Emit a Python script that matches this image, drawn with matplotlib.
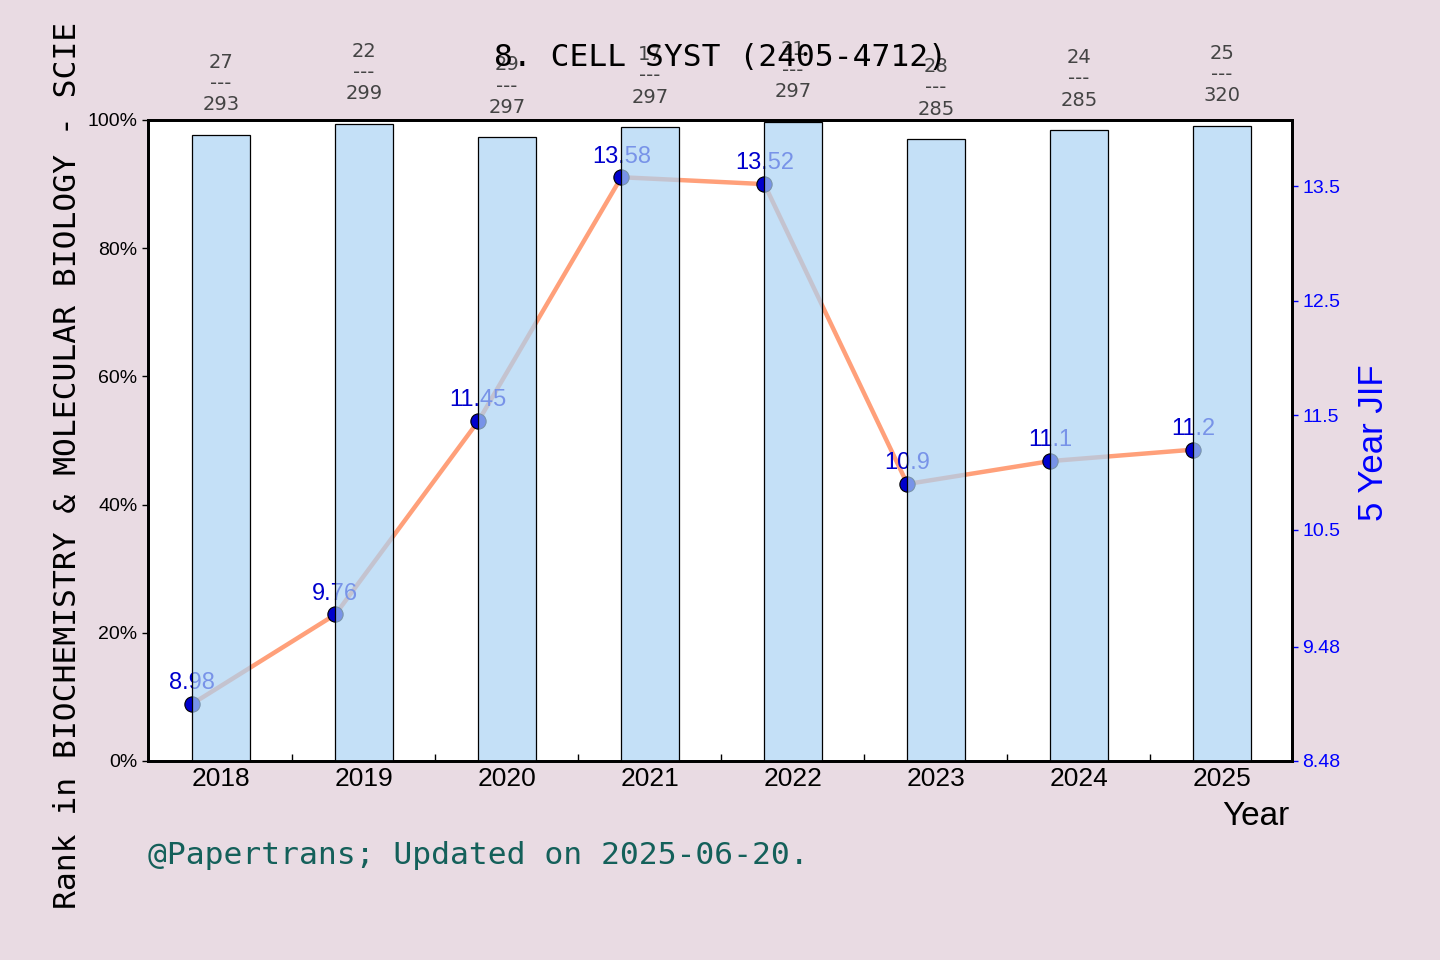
import matplotlib
matplotlib.use('Agg')
import matplotlib.pyplot as plt
import numpy as np

# data
years = ['2018', '2019', '2020', '2021', '2022', '2023', '2024', '2025']
jif = [8.98, 9.76, 11.45, 13.58, 13.52, 10.9, 11.1, 11.2]
rank = [27, 22, 29, 17, 21, 28, 24, 25]
total = [293, 299, 297, 297, 297, 285, 285, 320]
bar_pct = [97.7, 99.4, 97.3, 98.9, 99.7, 97.0, 98.4, 99.1]
pct_ticks = [0, 20, 40, 60, 80, 100]
jif_ticks = [8.48, 9.48, 10.5, 11.5, 12.5, 13.5]

title = '8. CELL SYST (2405-4712)'
left_label = 'Rank in BIOCHEMISTRY & MOLECULAR BIOLOGY - SCIE'
note = '@Papertrans; Updated on 2025-06-20.'

BG = '#E9DBE3'
mono = 'DejaVu Sans Mono'
sans = 'Liberation Sans'

fig = plt.figure(figsize=(14.4, 9.6), dpi=100, facecolor=BG)
ax = fig.add_axes([0.1028, 0.2073, 0.7944, 0.6677])
ax2 = ax.twinx()

# bars sit on top of the JIF line, so the bar axis goes above
ax.set_zorder(ax2.get_zorder() + 1)
ax.patch.set_visible(False)
ax2.patch.set_visible(True)
ax2.patch.set_facecolor('white')

x = np.arange(len(years))

# JIF line on the right axis
ax2.plot(x, jif, color='#FFA07A', lw=3.2, zorder=2)
ax2.plot(x, jif, 'o', color='#0000CD', markeredgecolor='black',
         markeredgewidth=0.8, markersize=11, zorder=3)
for xi, v in zip(x, jif):
    ax2.annotate(f'{v:g}', (xi, v), xytext=(0, 7), textcoords='offset points',
                 ha='center', va='bottom', color='#0000CD', fontsize=17,
                 family=sans, zorder=4)
ax2.set_ylim(8.48, 14.08)
ax2.set_yticks(jif_ticks)
ax2.set_yticklabels([f'{t:.3g}' for t in jif_ticks], color='blue',
                    fontsize=14, family=sans)
ax2.tick_params(axis='y', colors='blue', length=4, width=1)

# rank bars on the left axis (alpha only on the face, edges stay black)
ax.bar(x, bar_pct, width=0.4, align='edge', color=(0.675, 0.827, 0.957, 0.7),
       edgecolor='black', linewidth=0.9, zorder=2)
for xi, h, r, t in zip(x, bar_pct, rank, total):
    ax.text(xi + 0.2, h + 8, f'{r}\n---\n{t}', ha='center', va='center',
            fontsize=14, color='#444444', family='DejaVu Sans',
            linespacing=1.15, clip_on=False)

ax.set_xlim(-0.31, 7.69)
ax.set_ylim(0, 100)
ax.set_yticks(pct_ticks)
ax.set_yticklabels([f'{t}%' for t in pct_ticks], fontsize=14, family=sans)
ax.tick_params(axis='y', length=4, width=1)
ax.set_xticks(x + 0.2)
ax.set_xticklabels(years, fontsize=19, family=sans)
ax.set_xticks(x[:-1] + 0.7, minor=True)
ax.tick_params(axis='x', which='major', length=0, pad=4)
ax.tick_params(axis='x', which='minor', direction='in', length=5, width=1)

for a in (ax, ax2):
    for s in a.spines.values():
        s.set_linewidth(2)
        s.set_color('black')

fig.text(0.5, 1 - 57 / 960, title, ha='center', va='center',
         fontsize=22.5, family=mono, color='black')
fig.text(0.047, 1 - 465 / 960, left_label, rotation=90, ha='center',
         va='center', fontsize=22.6, family=mono, color='black')
fig.text(0.9535, 0.5385, '5 Year JIF', rotation=90, ha='center',
         va='center', fontsize=25, family=sans, color='blue')
fig.text(0.8958, 0.149, 'Year', ha='right', va='center', fontsize=24,
         family=sans, color='black')
fig.text(0.1028, 1 - 855 / 960, note, ha='left', va='center',
         fontsize=22.6, family=mono, color='#14605A')

fig.savefig('out.png', dpi=100, facecolor=BG)
plt.close(fig)
